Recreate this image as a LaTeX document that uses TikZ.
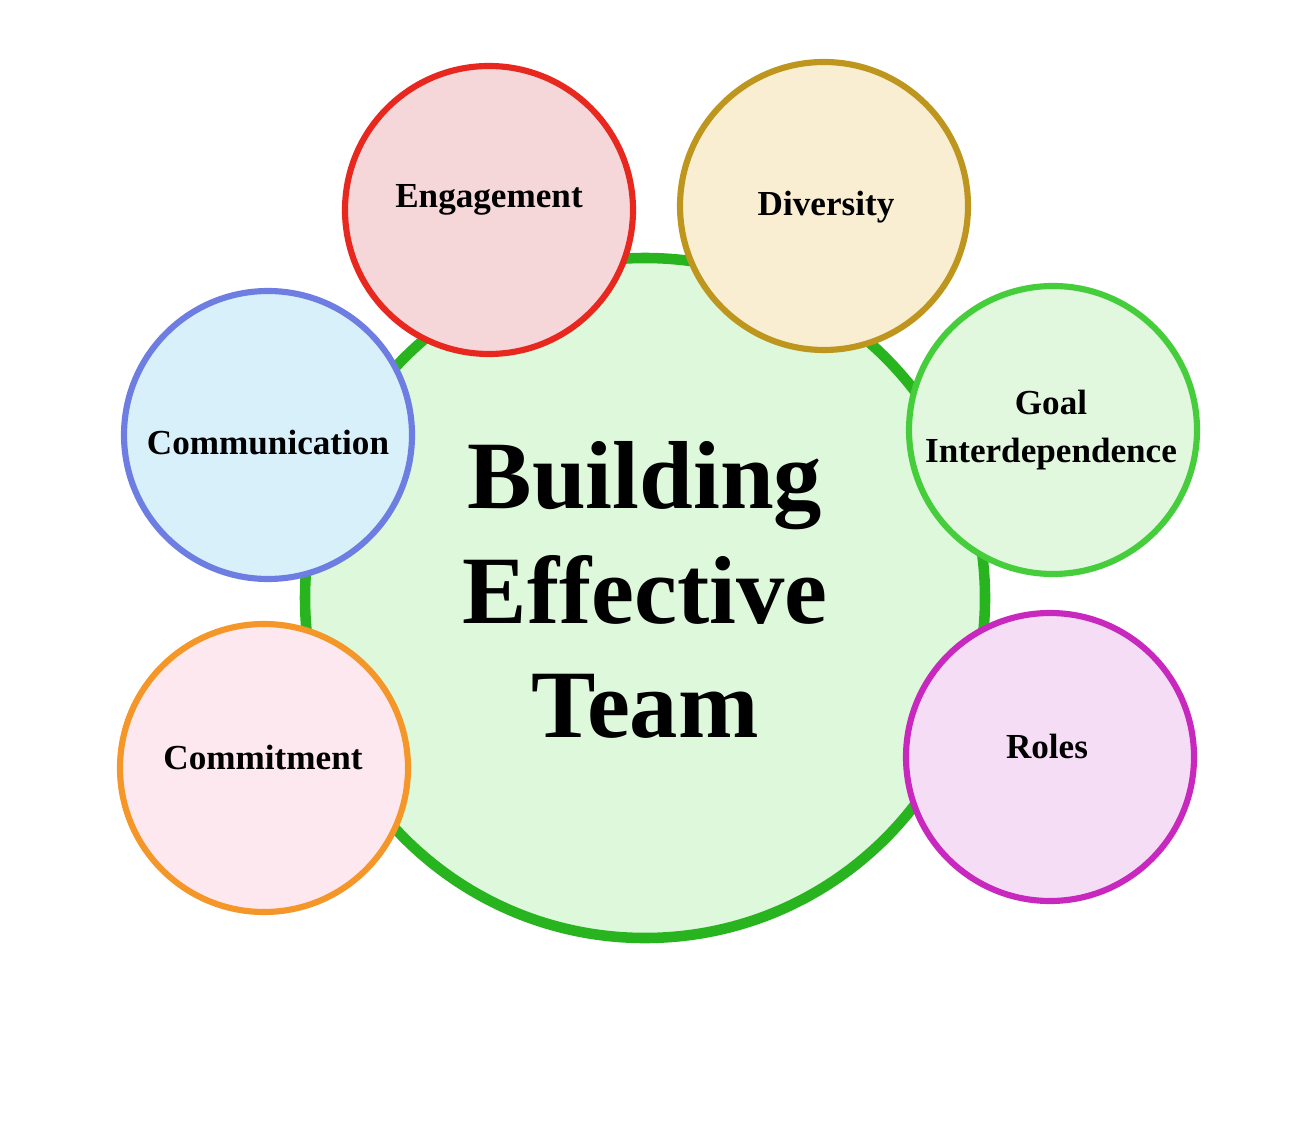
\documentclass[tikz,border=0pt]{standalone}
\usepackage{fontspec}
\setmainfont{Liberation Serif}
\begin{document}
\begin{tikzpicture}[x=0.02cm,y=-0.02cm,
  sat/.style={circle,minimum size=288*0.02cm,line width=3.5pt,inner sep=0pt},
  lab/.style={align=center,font=\bfseries\fontsize{20}{27}\selectfont}]
\useasboundingbox (0,0) rectangle (1300,1124);
\node[circle,draw={rgb,255:red,40;green,180;blue,30},fill={rgb,255:red,222;green,248;blue,220},line width=6pt,minimum size=680*0.02cm] (hub) at (645,598) {};
\node[align=center,font=\bfseries\fontsize{55}{65}\selectfont] (title) at (645,590) {Building\\Effective\\Team};
\node[sat,draw={rgb,255:red,232;green,40;blue,30},fill={rgb,255:red,245;green,215;blue,218}] (eng) at (489,210) {};
\node[sat,draw={rgb,255:red,190;green,150;blue,30},fill={rgb,255:red,250;green,238;blue,210}] (div) at (824,206) {};
\node[sat,draw={rgb,255:red,110;green,125;blue,225},fill={rgb,255:red,215;green,240;blue,250}] (com) at (268,435) {};
\node[sat,draw={rgb,255:red,70;green,205;blue,60},fill={rgb,255:red,225;green,248;blue,222}] (goal) at (1053,430) {};
\node[sat,draw={rgb,255:red,245;green,150;blue,40},fill={rgb,255:red,252;green,232;blue,238}] (cmt) at (264,768) {};
\node[sat,draw={rgb,255:red,200;green,40;blue,190},fill={rgb,255:red,245;green,222;blue,245}] (rol) at (1050,757) {};
\node[lab] (engt) at (489,200) {Engagement};
\node[lab] (divt) at (826,207) {Diversity};
\node[lab] (comt) at (268,443) {Communication};
\node[lab] (goalt) at (1051,430) {Goal\\Interdependence};
\node[lab] (cmtt) at (263,757) {Commitment};
\node[lab] (rolt) at (1047,746) {Roles};
\end{tikzpicture}
\end{document}
